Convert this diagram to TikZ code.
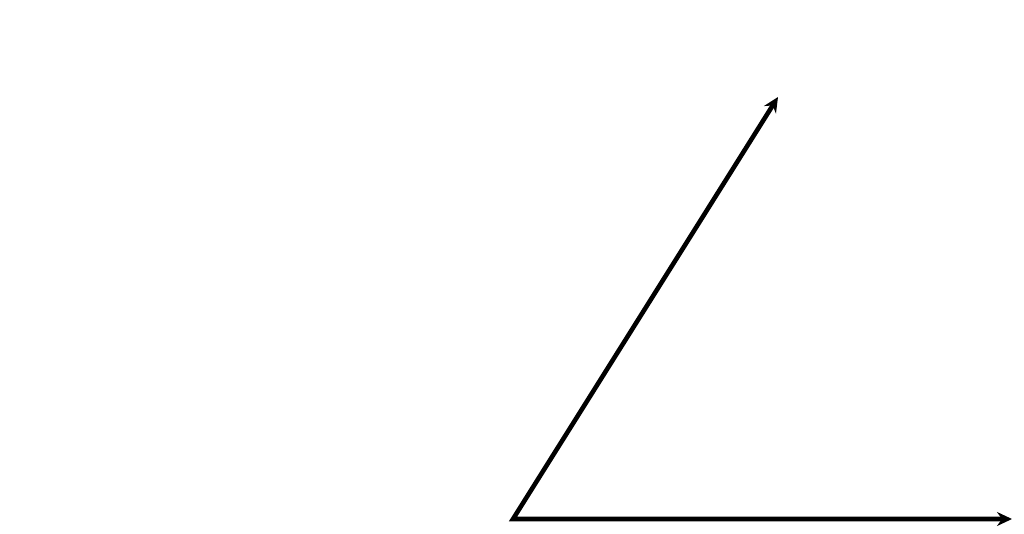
\documentclass[tikz,border=0pt]{standalone}
\usetikzlibrary{arrows.meta}
\tikzset{vec/.style={line width=1.3pt, line join=miter}}
\begin{document}
\begin{tikzpicture}
\useasboundingbox (0,0) rectangle (10.24,5.33);
\coordinate (o) at (5.13,0.14);
\coordinate (a) at (7.78,4.36);
\coordinate (b) at (10.12,0.14);
\draw[vec, {Stealth[length=1.5mm,width=1.4mm,inset=0.5mm]}-{Stealth[length=1.5mm,width=1.4mm,inset=0.5mm]}] (a) -- (o) -- (b);
\end{tikzpicture}
\end{document}
